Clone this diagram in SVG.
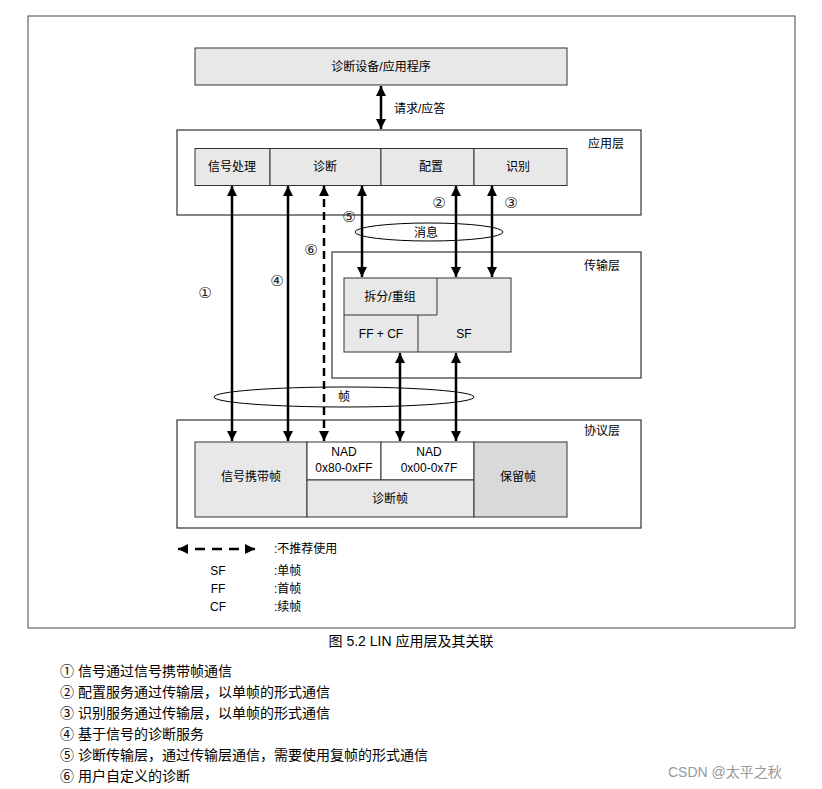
<svg xmlns="http://www.w3.org/2000/svg" width="822" height="789" viewBox="0 0 822 789">
<defs>
<marker id="ah" viewBox="0 0 10 10" refX="10" refY="5" markerWidth="5" markerHeight="4" orient="auto-start-reverse"><path d="M0,0 L10,5 L0,10 z" fill="#000"/></marker>
</defs>
<style>
text{font-family:"Liberation Sans","Noto Sans CJK SC",sans-serif;font-size:12px;fill:#000}
.c{text-anchor:middle}
.lay{fill:#fff;stroke:#333;stroke-width:1.2}
.box{fill:#e8e8e8;stroke:#333;stroke-width:1}
.w{fill:#fff;stroke:#333;stroke-width:1}
.d{fill:#d9d9d9;stroke:#333;stroke-width:1}
.a{stroke:#000;stroke-width:2.5;fill:none;marker-start:url(#ah);marker-end:url(#ah)}
.ell{fill:none;stroke:#000;stroke-width:1}
.n{font-family:"DejaVu Sans","Noto Sans CJK SC",sans-serif;font-size:15px;fill:#222}
.l{font-size:14px}
</style>
<rect width="822" height="789" fill="#fff"/>
<rect x="28" y="16" width="767" height="612" fill="none" stroke="#444" stroke-width="1"/>
<g id="top"><rect class="box" x="195" y="48" width="372" height="37"/><text class="c" x="381" y="71">诊断设备/应用程序</text></g>
<g id="app">
<rect class="lay" x="177" y="130" width="464" height="85"/><text x="588" y="148">应用层</text>
<rect class="box" x="195" y="148.5" width="75" height="37"/><text class="c" x="232" y="171">信号处理</text>
<rect class="box" x="270" y="148.5" width="111" height="37"/><text class="c" x="325" y="171">诊断</text>
<rect class="box" x="381" y="148.5" width="93" height="37"/><text class="c" x="431" y="171">配置</text>
<rect class="box" x="474" y="148.5" width="93" height="37"/><text class="c" x="518" y="171">识别</text>
</g>
<g id="transport">
<rect class="lay" x="332" y="252" width="309" height="126"/><text x="584" y="270">传输层</text>
<rect class="box" x="344" y="278" width="167" height="74"/>
<polyline points="344,315 437,315 437,278" fill="none" stroke="#333"/>
<line x1="418" y1="315" x2="418" y2="352" stroke="#333"/>
<text class="c" x="390" y="301">拆分/重组</text>
<text class="c" x="381" y="338">FF + CF</text>
<text class="c" x="464" y="338">SF</text>
</g>
<g id="protocol">
<rect class="lay" x="177" y="420" width="464" height="108"/><text x="584" y="435">协议层</text>
<rect class="box" x="195" y="442" width="112" height="75"/><text class="c" x="251" y="481">信号携带帧</text>
<rect class="w" x="307" y="442" width="74" height="38"/><text class="c" x="344" y="456">NAD</text><text class="c" x="344" y="472">0x80-0xFF</text>
<rect class="w" x="381" y="442" width="93" height="38"/><text class="c" x="429" y="456">NAD</text><text class="c" x="429" y="472">0x00-0x7F</text>
<rect class="box" x="307" y="480" width="167" height="37"/><text class="c" x="390" y="503">诊断帧</text>
<rect class="d" x="474" y="442" width="93" height="75"/><text class="c" x="518" y="481">保留帧</text>
</g>
<g id="connectors">
<line class="a" x1="381" y1="86" x2="381" y2="129"/>
<line class="a" x1="232" y1="186" x2="232" y2="441"/>
<line class="a" x1="288" y1="186" x2="288" y2="441"/>
<line class="a" x1="324" y1="186" x2="324" y2="441" stroke-dasharray="8,5"/>
<line class="a" x1="362" y1="186" x2="362" y2="277"/>
<line class="a" x1="456" y1="186" x2="456" y2="277"/>
<line class="a" x1="492" y1="186" x2="492" y2="277"/>
<line class="a" x1="400" y1="353" x2="400" y2="441"/>
<line class="a" x1="456" y1="353" x2="456" y2="441"/>
<ellipse class="ell" cx="429" cy="232" rx="74" ry="9"/>
<ellipse class="ell" cx="344" cy="397" rx="130" ry="10"/>
</g>
<text x="394" y="113">请求/应答</text>
<text class="c" x="426" y="237">消息</text>
<text class="c" x="344" y="401">帧</text>
<text class="n c" x="439" y="208">②</text>
<text class="n c" x="511" y="208">③</text>
<text class="n c" x="349" y="222">⑤</text>
<text class="n c" x="311" y="255">⑥</text>
<text class="n c" x="277" y="286">④</text>
<text class="n c" x="205" y="298">①</text>
<g id="legend">
<line class="a" x1="178" y1="549" x2="255" y2="549" stroke-dasharray="10,7" stroke-width="3"/>
<text x="274" y="553">:不推荐使用</text>
<text class="c" x="218" y="575">SF</text><text x="274" y="575">:单帧</text>
<text class="c" x="218" y="593">FF</text><text x="274" y="593">:首帧</text>
<text class="c" x="218" y="611">CF</text><text x="274" y="611">:续帧</text>
</g>
<text class="c" x="411" y="646" style="font-size:14px">图 5.2 LIN 应用层及其关联</text>
<text class="l" x="60" y="676">① 信号通过信号携带帧通信</text>
<text class="l" x="60" y="697">② 配置服务通过传输层，以单帧的形式通信</text>
<text class="l" x="60" y="718">③ 识别服务通过传输层，以单帧的形式通信</text>
<text class="l" x="60" y="739">④ 基于信号的诊断服务</text>
<text class="l" x="60" y="760">⑤ 诊断传输层，通过传输层通信，需要使用复帧的形式通信</text>
<text class="l" x="60" y="781">⑥ 用户自定义的诊断</text>
<text x="668" y="777" style="font-size:14px;fill:#999">CSDN @太平之秋</text>
</svg>
